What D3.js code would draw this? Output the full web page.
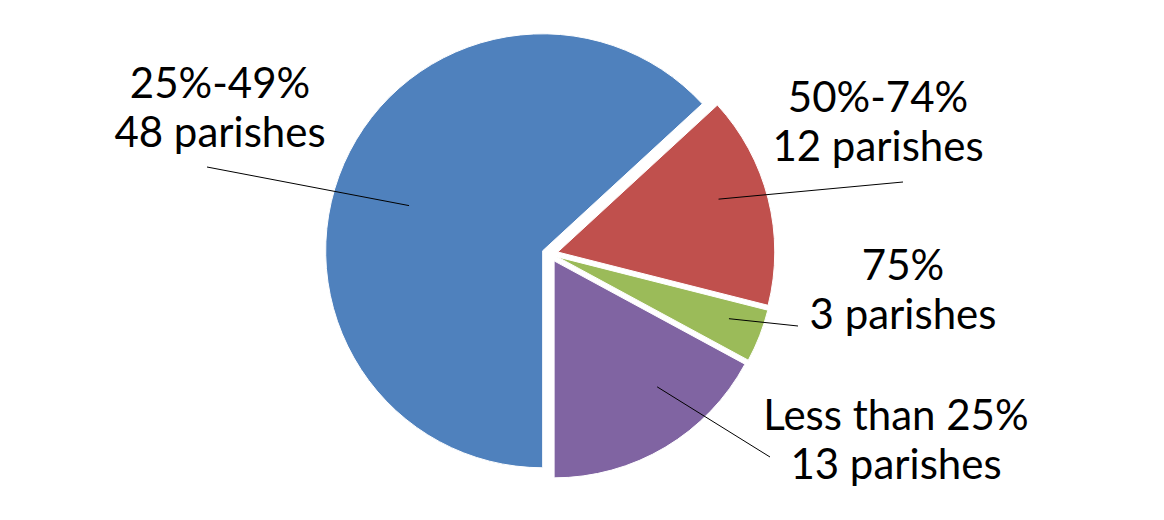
<!DOCTYPE html>
<html>
<head>
<meta charset="utf-8">
<script src="https://cdn.jsdelivr.net/npm/d3@7"></script>
<style>
  body { margin: 0; background: #fff; }
  text { font-family: Lato, "Open Sans", sans-serif; fill: #000; }
</style>
</head>
<body>
<div id="chart"></div>
<script>
// share of parishes, in pie order (clockwise from 6 o'clock)
var categories = ["25%-49%", "50%-74%", "75%", "Less than 25%"];
var parishes = [48, 12, 3, 13];
var colors = ["#4F81BD", "#C0504D", "#9BBB59", "#8064A2"];

var width = 1164, height = 520;
var cx = 550, cy = 254;
var radius = 217;
var explode = 8;

// label layout: text centre + baseline of first line, leader start/end
var labelPos = [
	{x: 220, y: 98, lx: 207, ly: 167, frac: 0.65, turn: -5},
	{x: 878, y: 112, lx: 903, ly: 182, frac: 0.78, turn: -4},
	{x: 903, y: 280, lx: 798, ly: 326, frac: 0.84, turn: -1.5},
	{x: 896, y: 430, lx: 770, ly: 457, frac: 0.75, turn: -8.5}
];

var svg = d3.select("#chart").append("svg")
	.attr("width", width)
	.attr("height", height);

var pie = d3.pie()
	.sort(null)
	.startAngle(Math.PI)
	.endAngle(3 * Math.PI);

var arc = d3.arc()
	.innerRadius(0)
	.outerRadius(radius);

var slices = pie(parishes);

function offset(d) {
	var mid = (d.startAngle + d.endAngle) / 2;
	return [explode * Math.sin(mid), -explode * Math.cos(mid)];
}

svg.selectAll(".slice")
	.data(slices)
	.enter()
	.append("path")
	.attr("class", "slice")
	.attr("transform", function(d) {
		var o = offset(d);
		return "translate(" + (cx + o[0]) + "," + (cy + o[1]) + ")";
	})
	.attr("d", arc)
	.attr("fill", function(d, i) { return colors[i]; })
	.attr("stroke", "#fff")
	.attr("stroke-width", 1);

// leader lines
svg.selectAll(".leader")
	.data(slices)
	.enter()
	.append("line")
	.attr("class", "leader")
	.attr("x1", function(d, i) { return labelPos[i].lx; })
	.attr("y1", function(d, i) { return labelPos[i].ly; })
	.attr("x2", function(d, i) {
		var o = offset(d);
		var a = (d.startAngle + d.endAngle) / 2 + labelPos[i].turn * Math.PI / 180;
		return cx + o[0] + radius * labelPos[i].frac * Math.sin(a);
	})
	.attr("y2", function(d, i) {
		var o = offset(d);
		var a = (d.startAngle + d.endAngle) / 2 + labelPos[i].turn * Math.PI / 180;
		return cy + o[1] - radius * labelPos[i].frac * Math.cos(a);
	})
	.attr("stroke", "#000")
	.attr("stroke-width", 1);

var labels = svg.selectAll(".label")
	.data(slices)
	.enter()
	.append("text")
	.attr("class", "label")
	.attr("text-anchor", "middle")
	.attr("font-size", 42);

labels.append("tspan")
	.attr("x", function(d, i) { return labelPos[i].x; })
	.attr("y", function(d, i) { return labelPos[i].y; })
	.text(function(d, i) { return categories[i]; });

labels.append("tspan")
	.attr("x", function(d, i) { return labelPos[i].x; })
	.attr("y", function(d, i) { return labelPos[i].y + 49; })
	.text(function(d) { return d.data + " parishes"; });
</script>
</body>
</html>
